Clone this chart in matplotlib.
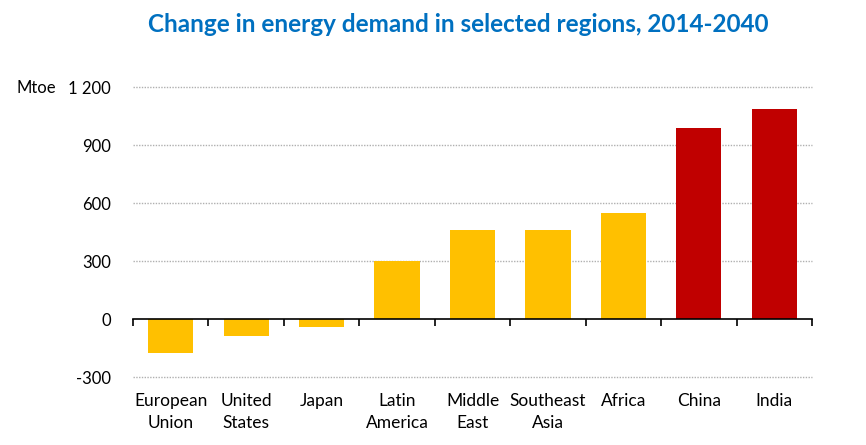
import matplotlib
matplotlib.use("Agg")
import matplotlib.pyplot as plt
import numpy as np

categories = ["European\nUnion", "United\nStates", "Japan", "Latin\nAmerica", "Middle\nEast",
              "Southeast\nAsia", "Africa", "China", "India"]
values = [-175, -88, -40, 298, 460, 460, 547, 986, 1085]
colors = ["#FFC000"] * 7 + ["#C00000"] * 2
yticks = [-300, 0, 300, 600, 900, 1200]
yticklabels = ["-300", "0", "300", "600", "900", "1 200"]

plt.rcParams['font.family'] = ['Lato', 'DejaVu Sans']

fig = plt.figure(figsize=(8.66, 4.45), dpi=100)
ax = fig.add_axes([133/866, 1-377/445, (812-133)/866, (377-87)/445])

x = np.arange(len(categories))
ax.bar(x, values, width=0.6, color=colors, zorder=3)

ax.set_xlim(-0.5, len(categories) - 0.5)
ax.set_ylim(-300, 1200)
ax.set_yticks(yticks)
ax.set_yticklabels(yticklabels, fontsize=12)
ax.tick_params(axis='y', length=0, pad=16)

for yv in yticks:
    if yv != 0:
        ax.axhline(yv, color="#B0B0B0", linestyle=(0, (1, 1)), linewidth=1, zorder=1,
                   clip_on=False)

for s in ['left', 'right', 'top']:
    ax.spines[s].set_visible(False)
ax.spines['bottom'].set_position(('data', 0))
ax.spines['bottom'].set_linewidth(1.2)
ax.spines['bottom'].set_zorder(4)
ax.set_xticks(np.arange(len(categories) + 1) - 0.5)
ax.set_xticklabels([])
ax.tick_params(axis='x', direction='out', length=5, width=1.2)

for xi, lab in zip(x, categories):
    ax.text(xi, -0.056, lab, transform=ax.get_xaxis_transform(), ha='center', va='top',
            fontsize=12.5, linespacing=1.45)

fig.text(17/866, 1-88/445, "Mtoe", fontsize=12, va='center', ha='left')
fig.text(458/866, 1-25/445, "Change in energy demand in selected regions, 2014-2040",
         fontsize=17.5, fontweight='bold', color="#0070C0", ha='center', va='center')

fig.savefig("out.png", dpi=100)
